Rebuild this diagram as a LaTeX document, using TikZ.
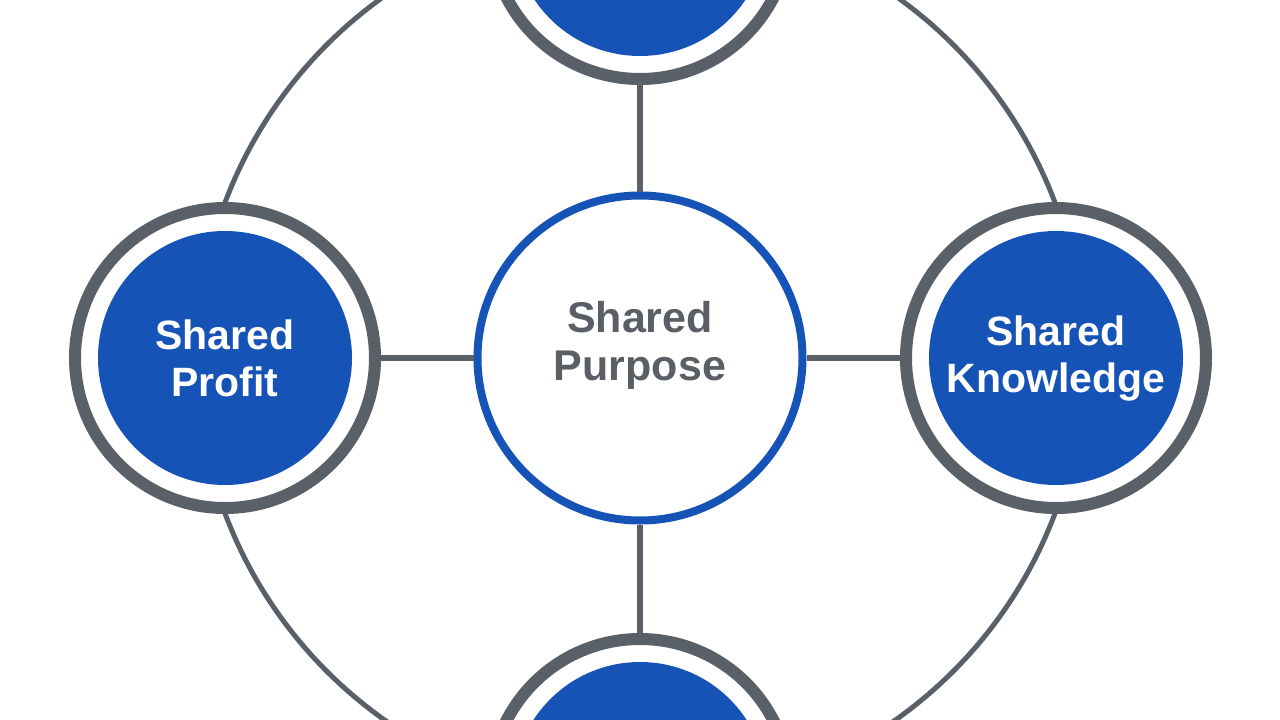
\documentclass[tikz,border=0pt]{standalone}
\usepackage{fontspec}
\setmainfont{Liberation Sans}
\definecolor{ringgray}{HTML}{596067}
\definecolor{mainblue}{HTML}{1653B6}
\definecolor{textgray}{HTML}{5A5F65}
\begin{document}
\begin{tikzpicture}[x=1pt,y=-1pt,
  ring/.style={circle,draw=ringgray,line width=12pt,fill=white,minimum size=300pt,inner sep=0pt},
  core/.style={circle,fill=mainblue,minimum size=254pt,inner sep=0pt,text=white,
    font=\bfseries\fontsize{41}{47}\selectfont,align=center},
  hub/.style={circle,draw=mainblue,line width=8pt,fill=white,minimum size=325pt,inner sep=0pt},
  hubtext/.style={text=textgray,font=\bfseries\fontsize{43}{48}\selectfont,align=center,inner sep=0pt},
  link/.style={draw=ringgray,line width=5.5pt},
  orbit/.style={draw=ringgray,line width=5pt}]
\useasboundingbox (0,0) rectangle (1280,720);
\clip (0,0) rectangle (1280,720);
\fill[white] (0,0) rectangle (1280,720);
\coordinate (o) at (640,358);
\draw[orbit] (o) circle[radius=443pt];
\node[ring] (rt) at (640,-71) {};
\node[ring] (rb) at (640,789) {};
\node[ring] (rl) at (225,358) {};
\node[ring] (rr) at (1056,358) {};
\node[core] (ct) at (rt) {};
\node[core] (cb) at (rb) {};
\node[core] (cl) at (rl) {Shared\\Profit};
\node[core] (cr) at (rr) {Shared\\Knowledge};
\node[hub] (hb) at (o) {};
\node[hubtext] (ht) at (640,345) {Shared\\Purpose};
\draw[link] (hb) -- (rt);
\draw[link] (hb) -- (rb);
\draw[link] (hb) -- (rl);
\draw[link] (hb) -- (rr);
\end{tikzpicture}
\end{document}
